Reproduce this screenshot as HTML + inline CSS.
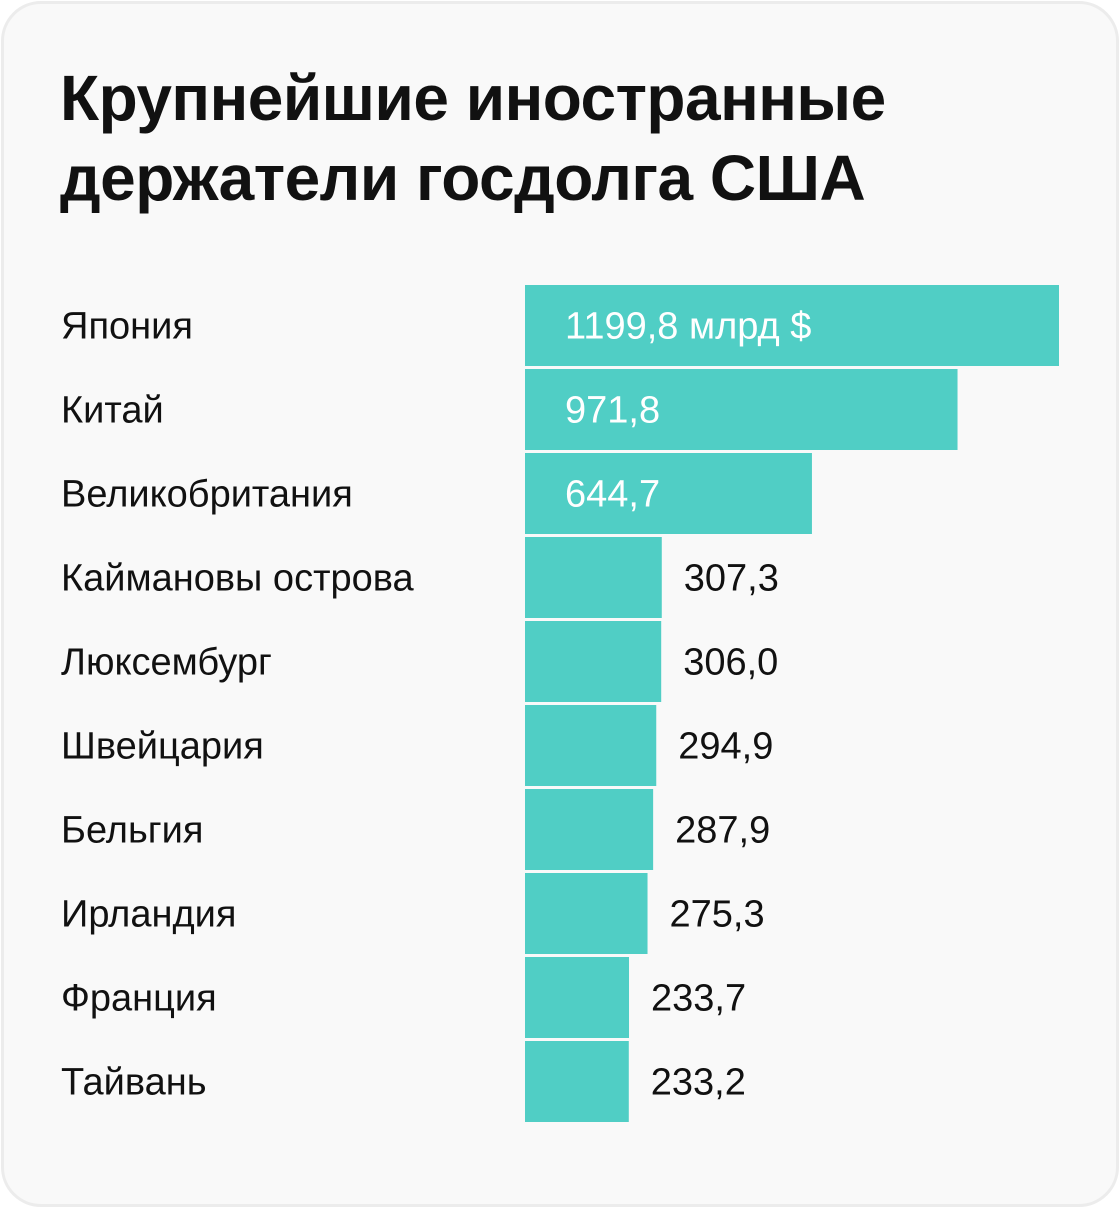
<!DOCTYPE html>
<html><head><meta charset="utf-8"><style>
body{margin:0;width:1120px;height:1208px;background:#fff;font-family:"Liberation Sans",sans-serif;}
.card{position:absolute;left:1px;top:1px;width:1112px;height:1200px;background:#f9f9f9;border:3px solid #ececec;border-radius:40px;}
h1{position:absolute;left:60px;top:58px;margin:0;font-size:64px;line-height:80px;font-weight:bold;color:#111;letter-spacing:-0.5px;}
</style></head><body>
<div class="card"></div>
<h1>Крупнейшие иностранные<br>держатели госдолга США</h1>
<svg id="chart" width="1120" height="1208" style="position:absolute;left:0;top:0"></svg>
<script>
const categories=["Япония","Китай","Великобритания","Каймановы острова","Люксембург","Швейцария","Бельгия","Ирландия","Франция","Тайвань"];
const values=[1199.8,971.8,644.7,307.3,306.0,294.9,287.9,275.3,233.7,233.2];
const valueLabels=["1199,8 млрд $","971,8","644,7","307,3","306,0","294,9","287,9","275,3","233,7","233,2"];
const svg=document.getElementById('chart');
const NS='http://www.w3.org/2000/svg';
const x0=525,scale=534/1199.8,y0=285,step=84,bh=81;
function xs(v){return v*scale;}
function ys(i){return y0+i*step;}
categories.forEach((c,i)=>{
  const y=ys(i),w=xs(values[i]);
  const r=document.createElementNS(NS,'rect');
  r.setAttribute('x',x0);r.setAttribute('y',y);r.setAttribute('width',w);r.setAttribute('height',bh);r.setAttribute('fill','#50cec5');
  
  
  svg.appendChild(r);
  const t=document.createElementNS(NS,'text');
  t.setAttribute('x',61);t.setAttribute('y',y+bh/2+13);t.setAttribute('font-size','38');t.setAttribute('fill','#111');
  t.textContent=c;
  
  
  svg.appendChild(t);
  const v=document.createElementNS(NS,'text');
  const inside=w>250;
  v.setAttribute('x',inside?x0+40:x0+w+22);v.setAttribute('y',y+bh/2+13);v.setAttribute('font-size','38');
  v.setAttribute('fill',inside?'#fff':'#111');
  v.textContent=valueLabels[i];
  
  
  svg.appendChild(v);
});
</script>
</body></html>
